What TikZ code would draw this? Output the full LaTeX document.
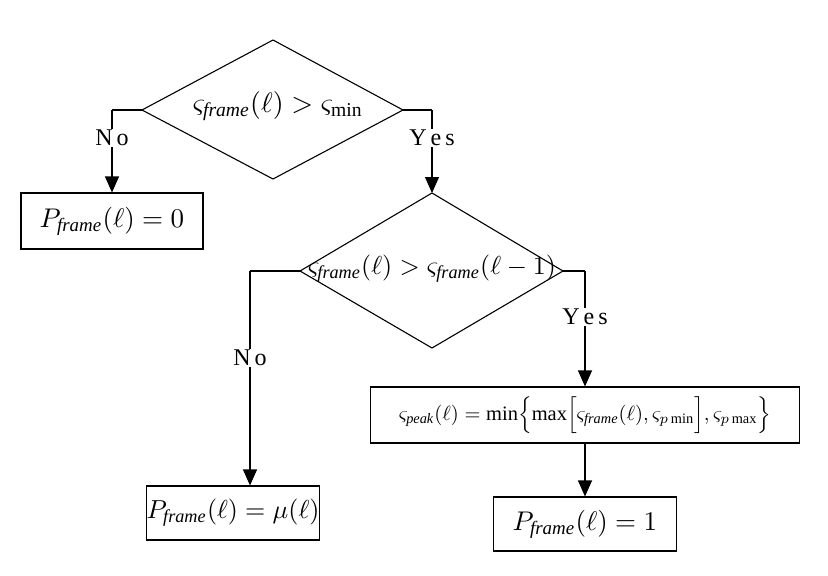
\documentclass[tikz,border=0pt]{standalone}
\usepackage{fontspec}
\setmainfont{Liberation Serif}
\usetikzlibrary{arrows.meta}
\begin{document}
\begin{tikzpicture}[x=1pt,y=-1pt,
  line/.style={draw=black, line width=1.1pt},
  arr/.style={line, -{Triangle[length=16pt,width=14pt]}},
  box/.style={draw=black, line width=1.1pt, inner sep=0pt},
  lab/.style={fill=white, inner sep=1pt, font=\fontsize{24}{26}\selectfont}]
\useasboundingbox (0,0) rectangle (828,576);
% diamond 1
\coordinate (d1t) at (273,40); \coordinate (d1l) at (142,110);
\coordinate (d1r) at (403,110); \coordinate (d1b) at (273,179);
\draw[line] (d1t) -- (d1r) -- (d1b) -- (d1l) -- cycle;
\node (t1) at (278,106) {\scalebox{2.8}{$\varsigma_{\mathit{frame}}(\ell) > \varsigma_{\min}$}};
% box 0
\node[box, minimum width=182pt, minimum height=56pt] (b0) at (112,221) {\scalebox{2.7}{$P_{\mathit{frame}}(\ell) = 0$}};
\coordinate (c0) at (112,110);
\draw[line] (d1l) -- (c0);
\draw[arr] (c0) -- (b0.north);
\node[lab] (no1) at (112,138) {N\,o};
% diamond 2
\coordinate (d2t) at (432,193); \coordinate (d2l) at (300,271);
\coordinate (d2r) at (563,271); \coordinate (d2b) at (432,348);
\coordinate (c1) at (432,110);
\draw[line] (d1r) -- (c1);
\draw[arr] (c1) -- (d2t);
\node[lab] (yes1) at (432,138) {Y\,e\,s};
\draw[line] (d2t) -- (d2r) -- (d2b) -- (d2l) -- cycle;
\node (t2) at (432,269) {\scalebox{2.6}{$\varsigma_{\mathit{frame}}(\ell) > \varsigma_{\mathit{frame}}(\ell-1)$}};
% box mu
\node[box, minimum width=170pt, minimum height=54pt] (bmu) at (233,513) {\scalebox{2.6}{$P_{\mathit{frame}}(\ell) = \mu(\ell)$}};
\coordinate (c2) at (250,271);
\draw[line] (d2l) -- (c2);
\draw[arr] (c2) -- (c2 |- bmu.north);
\node[lab] (no2) at (250,358) {N\,o};
% peak box
\node[box, minimum width=429pt, minimum height=56pt] (bpk) at (585,415) {\scalebox{2.05}{$\varsigma_{\mathit{peak}}(\ell) = \min\Bigl\{\max\Bigl[\varsigma_{\mathit{frame}}(\ell), \varsigma_{p\min}\Bigr], \varsigma_{p\max}\Bigr\}$}};
\coordinate (c3) at (585,271);
\draw[line] (d2r) -- (c3);
\draw[arr] (c3) -- (bpk.north);
\node[lab] (yes2) at (585,317) {Y\,e\,s};
% box 1
\node[box, minimum width=183pt, minimum height=54pt] (b1) at (585,524) {\scalebox{2.7}{$P_{\mathit{frame}}(\ell) = 1$}};
\draw[arr] (bpk.south) -- (b1.north);
\end{tikzpicture}
\end{document}
